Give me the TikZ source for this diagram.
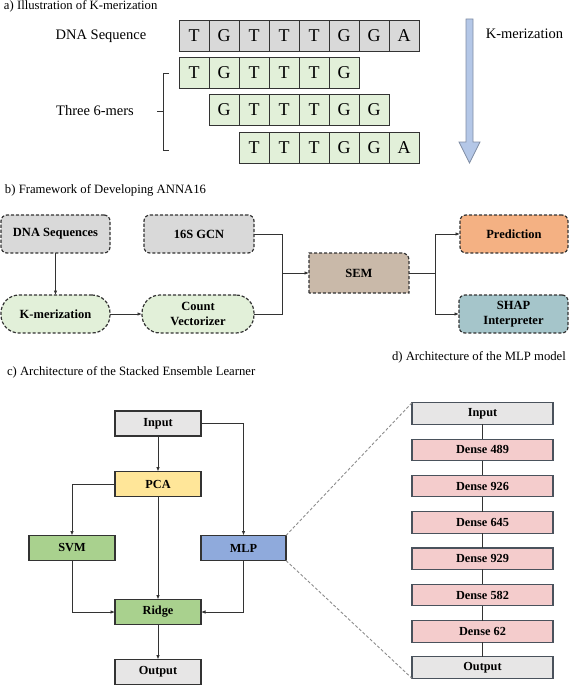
\documentclass[tikz,border=0pt]{standalone}
\usepackage{fontspec}
\setmainfont{Liberation Serif}
\usetikzlibrary{arrows.meta,calc}
\definecolor{cgray}{HTML}{D9D9D9}
\definecolor{cgreen}{HTML}{E2F0D9}
\definecolor{arrowblue}{HTML}{B4C7E7}
\definecolor{arrowedge}{HTML}{7F8CA3}
\definecolor{semc}{HTML}{C9B9A9}
\definecolor{predc}{HTML}{F4B183}
\definecolor{shapc}{HTML}{A5C5CA}
\definecolor{lgray}{HTML}{E7E6E6}
\definecolor{pcac}{HTML}{FFE699}
\definecolor{svmc}{HTML}{A9D18E}
\definecolor{mlpc}{HTML}{8FAADC}
\definecolor{densec}{HTML}{F4CCCC}
\definecolor{edgec}{HTML}{333333}
\definecolor{dedge}{HTML}{4A525C}
\definecolor{zoomc}{HTML}{8C8C8C}
\begin{document}
\begin{tikzpicture}[x=1pt,y=-1pt,
  every node/.style={inner sep=0pt, outer sep=0pt},
  title/.style={anchor=base west, font=\fontsize{12.7}{14}\selectfont},
  lab/.style={anchor=base, font=\fontsize{14.5}{16}\selectfont},
  cell/.style={draw=edgec, line width=0.8pt, minimum width=30pt, minimum height=31pt, font=\fontsize{18}{18}\selectfont},
  bbox/.style={draw=edgec, line width=1.2pt, dash pattern=on 3.2pt off 1.8pt, rounded corners=6pt,
     minimum height=38pt, font=\bfseries\fontsize{12.5}{15}\selectfont, align=center},
  stadium/.style={bbox, rounded corners=18pt},
  conn/.style={draw=edgec, line width=0.9pt},
  arr/.style={-{Latex[length=4.5pt,width=3.6pt]}},
  cbox/.style={draw=edgec, line width=1.3pt, minimum width=86pt, minimum height=25pt, font=\bfseries\fontsize{12.3}{14}\selectfont},
  cconn/.style={draw=edgec, line width=0.8pt},
  dbox/.style={draw=dedge, line width=1.1pt, minimum width=141pt, minimum height=21.5pt, font=\bfseries\fontsize{12.3}{14}\selectfont},
  zoomline/.style={draw=zoomc, line width=0.9pt, dash pattern=on 3pt off 2pt}
]
\useasboundingbox (0,0) rectangle (570,685);

% ---------- a) ----------
\node[title] (ta) at (4,10) {a) Illustration of K-merization};
\node[lab] (ldna) at (101,40) {DNA Sequence};
\node[lab] (lthree) at (95,115) {Three 6-mers};
\node[lab] (lkmer) at (524.5,38.5) {K-merization};

\foreach \l [count=\i] in {T,G,T,T,T,G,G,A}
  \node[cell, fill=cgray] (s\i) at ({164+30*\i},35.5) {\l};
\foreach \l [count=\i] in {T,G,T,T,T,G}
  \node[cell, fill=cgreen] (ka\i) at ({164+30*\i},72.5) {\l};
\foreach \l [count=\i] in {G,T,T,T,G,G}
  \node[cell, fill=cgreen] (kb\i) at ({194+30*\i},110) {\l};
\foreach \l [count=\i] in {T,T,T,G,G,A}
  \node[cell, fill=cgreen] (kc\i) at ({224+30*\i},147.5) {\l};

% brace
\draw[edgec, line width=1pt] (169,73) -- (163,73) -- (163,150) -- (169,150);
\draw[edgec, line width=1pt] (163,111) -- (157,111);

% block arrow
\draw[fill=arrowblue, draw=arrowedge, line width=0.8pt]
  (466,19) -- (473,19) -- (473,142) -- (480,142) -- (469.5,163) -- (459,142) -- (466,142) -- cycle;

% ---------- b) ----------
\node[title] (tb) at (5,193) {b) Framework of Developing ANNA16};
\node[bbox, fill=cgray, minimum width=109pt] (dna) at (55.5,234) {DNA Sequences};
\node[stadium, fill=cgreen, minimum width=109pt] (kmer) at (55.5,314) {K-merization};
\node[bbox, fill=cgray, minimum width=110pt] (gcn) at (199,234) {16S GCN};
\node[stadium, fill=cgreen, minimum width=112pt] (cv) at (198,314) {Count\\Vectorizer};
\node[minimum width=100pt, minimum height=40pt] (semb) at (359,273) {};
\draw[draw=edgec, line width=1.2pt, dash pattern=on 3.2pt off 1.8pt, fill=semc]
  (semb.south west) -- (semb.north west) -- ([xshift=-7pt]semb.north east)
  .. controls ([xshift=-3pt]semb.north east) and ([yshift=-3pt]semb.north east) .. ([yshift=-7pt]semb.north east)
  -- (semb.south east) -- cycle;
\node[font=\bfseries\fontsize{12.5}{15}\selectfont] (sem) at (semb.center) {SEM};
\node[bbox, fill=predc, minimum width=108pt] (pred) at (514,234) {Prediction};
\node[bbox, fill=shapc, minimum width=109pt] (shap) at (513.5,314) {SHAP\\Interpreter};

\coordinate (j1) at (282,273);
\coordinate (j2) at (435,273);
\draw[conn, arr] (dna.south) -- (kmer.north);
\draw[conn, arr] (kmer.east) -- (cv.west);
\draw[conn] (gcn.east) -| (j1);
\draw[conn] (cv.east) -| (j1);
\draw[conn, arr] (j1) -- (semb.west);
\draw[conn] (semb.east) -- (j2);
\draw[conn, arr] (j2) |- (pred.west);
\draw[conn, arr] (j2) |- (shap.west);

% ---------- c) ----------
\node[title] (tc) at (7,375) {c) Architecture of the Stacked Ensemble Learner};
\node[cbox, fill=lgray] (cin) at (158,423.5) {Input};
\node[cbox, fill=pcac] (pca) at (158,484) {PCA};
\node[cbox, fill=svmc] (svm) at (72,548) {SVM};
\node[cbox, fill=mlpc, minimum width=85pt] (mlp) at (243.5,548) {MLP};
\node[cbox, fill=svmc] (ridge) at (158,612) {Ridge};
\node[cbox, fill=lgray] (cout) at (158,672) {Output};

\draw[cconn, arr] (cin.south) -- (pca.north);
\draw[cconn, arr] (cin.east) -| (mlp.north);
\draw[cconn, arr] (pca.west) -| (svm.north);
\draw[cconn, arr] (pca.south) -- (ridge.north);
\draw[cconn, arr] (svm.south) |- (ridge.west);
\draw[cconn, arr] (mlp.south) |- (ridge.east);
\draw[cconn, arr] (ridge.south) -- (cout.north);

% ---------- d) ----------
\node[title] (td) at (392,360) {d) Architecture of the MLP model};
\node[dbox, fill=lgray] (d0) at (482.5,413.5) {Input};
\node[dbox, fill=densec] (d1) at (482.5,449.8) {Dense 489};
\node[dbox, fill=densec] (d2) at (482.5,486.1) {Dense 926};
\node[dbox, fill=densec] (d3) at (482.5,522.4) {Dense 645};
\node[dbox, fill=densec] (d4) at (482.5,558.7) {Dense 929};
\node[dbox, fill=densec] (d5) at (482.5,595.0) {Dense 582};
\node[dbox, fill=densec] (d6) at (482.5,631.3) {Dense 62};
\node[dbox, fill=lgray] (d7) at (482.5,667.6) {Output};
\foreach \a/\b in {0/1,1/2,2/3,3/4,4/5,5/6,6/7}
  \draw[cconn] (d\a.south) -- (d\b.north);

\draw[zoomline] (mlp.north east) -- (d0.north west);
\draw[zoomline] (mlp.south east) -- (d7.south west);
\end{tikzpicture}
\end{document}
